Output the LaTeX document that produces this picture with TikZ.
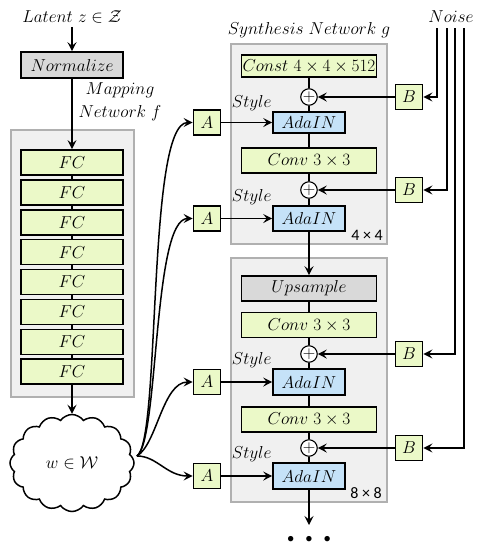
\documentclass[tikz,border=0pt]{standalone}
\usepackage{xcolor,tikz}
\usepackage{fontspec}
\newfontfamily\sizefont{Carlito}
\usetikzlibrary{positioning,fit,shapes.symbols,backgrounds,arrows.meta}

\begin{document}
\begin{tikzpicture}[x=1pt,y=-1pt]
  \definecolor{lime}{HTML}{EBF9C8}
  \definecolor{sky}{HTML}{C5E2F8}
  \definecolor{midgray}{HTML}{D9D9D9}
  \definecolor{panelgray}{HTML}{F0F0F0}
  \definecolor{panelline}{HTML}{B0B0B0}
  \newcommand{\nodename}[1]{\fontsize{17.28}{20}\selectfont$#1$}
  \newcommand{\nodedesc}[1]{\fontsize{17.28}{19}\selectfont$#1$}
  \tikzstyle{block}     = [rectangle, draw, line width=1.6pt, inner sep=0pt, minimum height=25pt]
  \tikzstyle{fcblock}   = [block, fill=lime, minimum width=102pt]
  \tikzstyle{convblock} = [block, fill=lime, minimum width=135pt]
  \tikzstyle{grayblock} = [block, fill=midgray]
  \tikzstyle{adablock}  = [block, fill=sky, minimum width=72pt]
  \tikzstyle{affine}    = [block, fill=lime, minimum width=27pt]
  \tikzstyle{addnode}   = [circle, draw, fill=white, line width=1.1pt, minimum size=15pt, inner sep=0pt]
  \tikzstyle{panel}     = [rectangle, draw=panelline, fill=panelgray, line width=1.1pt, inner sep=0pt]
  \tikzstyle{stylename} = [anchor=south east, inner sep=0.5pt]
  \tikzstyle{connector} = [line width=1.5pt, -{Stealth[length=9pt,width=9pt,inset=3.5pt]}]
  \tikzstyle{link}      = [line width=1.5pt]
  \useasboundingbox (0,0) rectangle (479,550);
  % mapping network f
  \node (latent) at (72,17) {\nodename{Latent\ z \in \mathcal{Z}}};
  \node [grayblock, minimum width=102pt, minimum height=26pt] (norm) at (72,65) {\nodename{Normalize}};
  \node [align=center, font=\fontsize{17.28}{23}\selectfont] (mapname) at (120,102) {$Mapping$\\$Network\ f$};
  \foreach \i in {1,...,8}
    \node [fcblock] (fc\i) at (72,132.5+29.9*\i) {\nodename{FC}};
  \node [cloud, draw, line width=1.5pt, cloud puffs=16, cloud puff arc=110, aspect=1.3, minimum width=124pt, minimum height=97pt, inner sep=0pt] (wspace) at (72,463) {\nodename{w \in \mathcal{W}}};
  \coordinate (wtip) at (137,456);
  \draw [connector] (latent) -- (norm);
  \draw [connector] (norm) -- (fc1);
  \foreach \i [count=\j from 2] in {1,...,7}
    \draw [link] (fc\i) -- (fc\j);
  \draw [connector] (fc8) -- (wspace);
  % synthesis network g, 4x4
  \node (synthname) at (309,30) {\nodename{Synthesis\ Network\ g}};
  \node [convblock, minimum height=22pt] (const) at (309,66) {\nodename{Const\ 4\times 4\times 512}};
  \node [addnode] (add1) at (309,97) {\nodename{+}};
  \node [adablock, minimum height=21pt] (ada1) at (309,122.5) {\nodename{AdaIN}};
  \node [convblock] (conv1) at (309,160.5) {\nodename{Conv\ 3\times 3}};
  \node [addnode] (add2) at (309,190) {\nodename{+}};
  \node [adablock] (ada2) at (309,218.5) {\nodename{AdaIN}};
  \node (res4) at (367,235) {\fontsize{16}{18}\sizefont 4 × 4};
  % synthesis network g, 8x8
  \node [grayblock, minimum width=135pt] (ups) at (309,288.5) {\nodename{Upsample}};
  \node [convblock] (conv2) at (309,325) {\nodename{Conv\ 3\times 3}};
  \node [addnode] (add3) at (309,354) {\nodename{+}};
  \node [adablock, minimum height=26pt] (ada3) at (309,382) {\nodename{AdaIN}};
  \node [convblock] (conv3) at (309,419.5) {\nodename{Conv\ 3\times 3}};
  \node [addnode] (add4) at (309,448) {\nodename{+}};
  \node [adablock, minimum height=26pt] (ada4) at (309,476) {\nodename{AdaIN}};
  \node (res8) at (366,493) {\fontsize{16}{18}\sizefont 8 × 8};
  \coordinate (out) at (309,525);
  \node (dots) at (309,541) {\fontsize{24}{24}\selectfont\textbullet\hspace{1pt}\textbullet\hspace{1pt}\textbullet};
  \draw [link] (const) -- (add1) -- (ada1) -- (conv1) -- (add2) -- (ada2);
  \draw [connector] (ada2) -- (ups);
  \draw [link] (ups) -- (conv2) -- (add3) -- (ada3) -- (conv3) -- (add4) -- (ada4);
  \draw [connector] (ada4) -- (out);
  % styles A
  \node [affine, left = 51pt of ada1] (a1) {\nodename{A}};
  \node [affine, left = 51pt of ada2] (a2) {\nodename{A}};
  \node [affine, left = 51pt of ada3] (a3) {\nodename{A}};
  \node [affine, left = 51pt of ada4] (a4) {\nodename{A}};
  \foreach \i in {1,...,4} {
    \draw [connector] (a\i) -- (ada\i);
    \node [stylename] (style\i) at (ada\i.north west) {\nodedesc{Style}};
  }
  \draw [connector] (wtip) .. controls +(24,-16) and +(-46,0) .. (a1.west);
  \draw [connector] (wtip) .. controls +(22,-16) and +(-40,0) .. (a2.west);
  \draw [connector] (wtip) .. controls +(20,-12) and +(-30,0) .. (a3.west);
  \draw [connector] (wtip) .. controls +(20,0) and +(-26,0) .. (a4.west);
  % noise B
  \node [affine, right = 77pt of add1] (b1) {\nodename{B}};
  \node [affine, right = 77pt of add2] (b2) {\nodename{B}};
  \node [affine, right = 77pt of add3] (b3) {\nodename{B}};
  \node [affine, right = 77pt of add4] (b4) {\nodename{B}};
  \node (noise) at (451,17) {\nodename{Noise}};
  \coordinate (n1) at (437,28);
  \coordinate (n2) at (447,28);
  \coordinate (n3) at (455,28);
  \coordinate (n4) at (464,28);
  \foreach \i in {1,...,4} {
    \draw [connector] (n\i) |- (b\i);
    \draw [connector] (b\i) -- (add\i);
  }
  \begin{scope}[on background layer]
    \node [panel, fit={(11,130) (134,397)}] (mappanel) {};
    \node [panel, fit={(231,44) (387,244)}] (block4) {};
    \node [panel, fit={(231,258) (387,502)}] (block8) {};
  \end{scope}
\end{tikzpicture}
\end{document}
